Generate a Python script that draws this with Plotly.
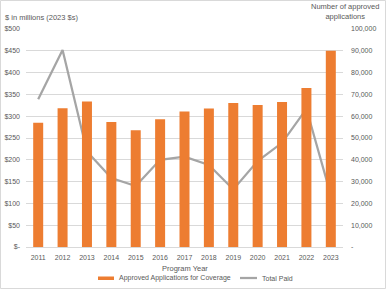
import plotly.graph_objects as go

years = ['2011', '2012', '2013', '2014', '2015', '2016', '2017',
         '2018', '2019', '2020', '2021', '2022', '2023']
approved_apps = [57000, 63700, 66800, 57300, 53500, 58600, 62100,
                 63500, 66000, 65100, 66500, 72900, 90000]
total_paid = [339, 452, 219, 158, 140, 200, 207, 188, 132, 197, 239, 317, 119]

left_vals = [0, 50, 100, 150, 200, 250, 300, 350, 400, 450, 500]
left_text = ['$-', '$50', '$100', '$150', '$200', '$250', '$300',
             '$350', '$400', '$450', '$500']
right_vals = [0, 10000, 20000, 30000, 40000, 50000, 60000, 70000, 80000, 90000, 100000]
right_text = ['-', '10,000', '20,000', '30,000', '40,000', '50,000', '60,000',
              '70,000', '80,000', '90,000', '100,000']

grey = '#595959'
fnt = 'Liberation Sans, Arial, sans-serif'

# plot area in pixels: x 26..343, y 29..247
W, H = 317, 218
def px(x):
    return (x - 26) / W
def py(y):
    return (247 - y) / H

fig = go.Figure()
fig.add_trace(go.Bar(x=years, y=approved_apps, yaxis='y2',
                     name='Approved Applications for Coverage',
                     marker_color='#ED7D31', marker_line_width=0))
fig.add_trace(go.Scatter(x=years, y=total_paid, mode='lines', name='Total Paid',
                         line=dict(color='#A5A5A5', width=2.25)))

fig.update_layout(
    width=386, height=290,
    margin=dict(l=26, r=43, t=29, b=43, autoexpand=False),
    paper_bgcolor='white', plot_bgcolor='white',
    font=dict(family=fnt, size=7, color=grey),
    bargap=0.59,
    showlegend=False,
    xaxis=dict(showgrid=False, showline=True, linecolor='#D9D9D9', ticks='',
               ticklabelstandoff=4, tickfont=dict(size=7, color=grey)),
    yaxis=dict(range=[0, 500], tickvals=left_vals, ticktext=left_text,
               gridcolor='#D9D9D9', gridwidth=1, zeroline=False, ticks='',
               ticklabelstandoff=5, tickfont=dict(size=7, color=grey)),
    yaxis2=dict(range=[0, 100000], tickvals=right_vals, ticktext=right_text,
                overlaying='y', side='right', showgrid=False, zeroline=False,
                ticks='', ticklabelstandoff=7, tickfont=dict(size=7, color=grey)),
    shapes=[
        dict(type='rect', xref='paper', yref='paper', x0=px(0.5), x1=px(385.5),
             y0=py(288.5), y1=py(0.5), line=dict(color='#D9D9D9', width=1)),
        # legend keys
        dict(type='rect', xref='paper', yref='paper', x0=px(98), x1=px(114),
             y0=py(280), y1=py(276.5), fillcolor='#ED7D31', line_width=0),
        dict(type='line', xref='paper', yref='paper', x0=px(240), x1=px(257),
             y0=py(278), y1=py(278), line=dict(color='#A5A5A5', width=2.25)),
    ],
    annotations=[
        dict(text='$ in millions (2023 $s)', xref='paper', yref='paper',
             x=px(3), y=py(17), xanchor='left', yanchor='middle',
             showarrow=False, font=dict(size=7.5, color=grey)),
        dict(text='Number of approved<br>applications', xref='paper', yref='paper',
             x=px(345), y=py(12), xanchor='center', yanchor='middle',
             align='center', showarrow=False, font=dict(size=7.5, color=grey)),
        dict(text='Program Year', xref='paper', yref='paper',
             x=0.5, y=py(268), xanchor='center', yanchor='middle',
             showarrow=False, font=dict(size=7.5, color=grey)),
        dict(text='Approved Applications for Coverage', xref='paper', yref='paper',
             x=px(117), y=py(278), xanchor='left', yanchor='middle',
             showarrow=False, font=dict(size=7, color=grey)),
        dict(text='Total Paid', xref='paper', yref='paper',
             x=px(260), y=py(278), xanchor='left', yanchor='middle',
             showarrow=False, font=dict(size=7, color=grey)),
    ],
)

fig.write_html('out.html', config={'displayModeBar': False},
               post_script="document.body.style.margin='0';")
